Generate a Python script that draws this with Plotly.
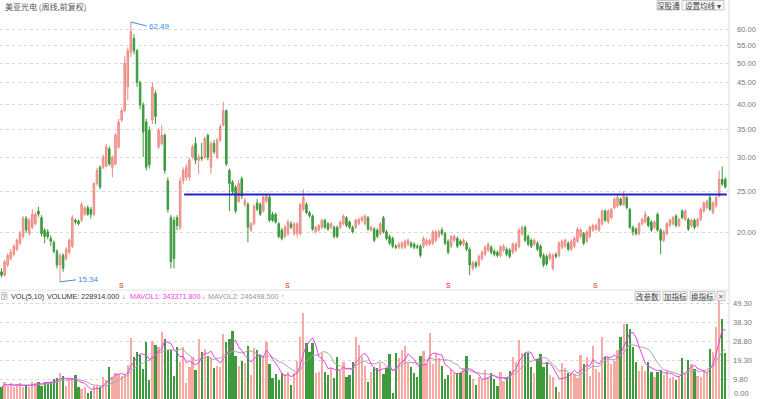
import math
import plotly.graph_objects as go
import pandas as pd

# ---------------- data (weekly, forward-adjusted) ----------------
open_ = [16.2, 15.9, 16.8, 17.4, 17.8, 18.3, 18.9, 19.6, 21.6, 19.9,
         20.6, 21.0, 22.5, 21.7, 20.3, 20.1, 19.4, 19.0, 18.1, 16.8,
         17.7, 17.4, 18.0, 18.6, 21.4, 21.3, 21.4, 22.1, 22.9, 22.7,
         22.1, 26.1, 28.5, 28.5, 28.7, 31.5, 28.5, 29.0, 31.8, 36.8,
         38.7, 44.0, 53.0, 57.2, 53.5, 45.1, 39.9, 36.4, 34.8, 36.8,
         42.5, 31.8, 32.4, 33.9, 26.5, 21.7, 21.4, 21.7, 20.6, 26.5,
         27.0, 27.0, 30.1, 32.4, 29.6, 30.1, 30.1, 33.9, 28.5, 32.4,
         30.1, 33.0, 35.8, 38.7, 28.0, 26.3, 25.6, 23.7, 26.8, 23.3,
         23.3, 20.3, 21.0, 23.5, 23.3, 22.5, 23.7, 24.2, 22.1, 22.1,
         21.0, 20.3, 19.6, 19.9, 21.0, 19.9, 19.9, 19.9, 22.7, 23.3,
         22.3, 21.9, 20.1, 20.3, 20.6, 21.4, 21.0, 20.6, 20.6, 20.6,
         20.6, 21.0, 21.7, 21.2, 20.6, 20.6, 21.0, 21.4, 21.0, 21.7,
         20.3, 20.4, 20.3, 19.9, 21.7, 20.1, 19.6, 19.4, 18.6, 18.5,
         18.5, 18.5, 18.8, 18.9, 18.8, 18.6, 18.6, 18.6, 18.8, 18.8,
         18.9, 19.2, 19.6, 20.3, 19.9, 19.1, 18.6, 19.2, 19.4, 19.1,
         18.8, 18.9, 18.3, 16.5, 17.0, 16.8, 17.4, 17.8, 18.2, 18.5,
         18.1, 18.0, 17.7, 18.2, 18.3, 18.2, 18.0, 18.2, 18.6, 19.9,
         20.6, 19.6, 19.2, 18.8, 18.9, 18.6, 17.7, 17.6, 17.4, 16.5,
         17.8, 17.7, 18.5, 18.6, 18.9, 18.3, 18.6, 19.1, 19.6, 19.9,
         19.1, 19.6, 20.3, 20.4, 20.3, 21.0, 22.5, 21.2, 21.7, 22.9,
         23.1, 24.0, 23.3, 24.2, 22.7, 20.6, 20.4, 19.9, 21.0, 21.2,
         21.7, 21.2, 20.6, 22.1, 20.3, 19.2, 19.9, 20.8, 21.0, 21.9,
         20.8, 22.5, 21.5, 21.5, 20.8, 21.4, 20.8, 21.5, 22.5, 22.9,
         24.2, 22.3, 23.1, 24.4, 26.7, 26.7]

high = [16.5, 17.3, 17.9, 18.3, 18.8, 19.4, 20.2, 21.9, 21.9, 21.7,
        22.7, 22.4, 23.0, 22.0, 20.5, 20.4, 19.7, 19.2, 18.3, 17.9,
        17.9, 18.5, 19.4, 22.0, 21.6, 21.5, 23.6, 23.1, 23.2, 23.0,
        26.3, 28.4, 28.8, 30.5, 32.3, 31.9, 30.4, 34.3, 37.0, 39.3,
        52.0, 54.5, 62.49, 58.5, 54.0, 45.5, 40.5, 37.0, 35.5, 45.1,
        43.2, 35.3, 35.8, 34.2, 27.0, 22.0, 21.8, 22.0, 27.0, 28.5,
        29.0, 30.0, 32.2, 33.5, 30.6, 32.5, 33.6, 34.2, 32.8, 33.0,
        33.4, 36.0, 40.6, 39.0, 28.3, 26.6, 25.9, 26.6, 27.1, 24.2,
        23.6, 21.2, 23.3, 24.0, 23.6, 24.5, 24.7, 24.6, 22.4, 22.3,
        21.2, 20.5, 20.9, 21.5, 21.3, 21.2, 21.2, 23.5, 25.3, 23.6,
        22.5, 22.1, 20.8, 21.0, 21.6, 21.6, 21.2, 21.2, 20.8, 20.8,
        21.4, 22.1, 21.9, 21.4, 20.8, 21.6, 21.7, 21.9, 22.1, 21.9,
        20.8, 20.6, 20.5, 21.2, 21.9, 20.3, 19.8, 19.6, 18.8, 19.0,
        19.1, 19.3, 19.4, 19.1, 19.0, 18.8, 18.8, 19.6, 19.4, 19.4,
        20.3, 20.3, 20.3, 20.6, 20.1, 19.3, 19.8, 19.8, 19.6, 19.3,
        19.4, 19.1, 18.5, 17.2, 17.2, 17.8, 18.2, 18.7, 19.0, 18.7,
        18.3, 18.2, 18.7, 18.8, 18.5, 18.4, 19.0, 19.0, 20.5, 20.8,
        20.8, 19.8, 19.4, 19.4, 19.1, 18.8, 17.9, 17.8, 18.0, 17.9,
        18.0, 19.1, 19.3, 19.4, 19.1, 19.3, 19.6, 20.6, 20.5, 20.1,
        20.3, 20.8, 21.0, 21.0, 21.7, 22.7, 22.7, 22.7, 22.9, 24.2,
        24.7, 24.2, 25.1, 24.4, 22.9, 20.8, 20.6, 21.2, 21.7, 22.5,
        21.9, 21.4, 21.4, 22.3, 20.5, 20.3, 21.2, 21.6, 21.9, 22.1,
        21.7, 22.7, 22.7, 21.7, 21.6, 21.6, 21.7, 22.9, 23.7, 23.9,
        24.7, 23.7, 24.4, 28.0, 28.6, 27.0]

low = [15.7, 15.8, 16.6, 17.2, 17.6, 18.1, 18.7, 19.4, 20.0, 19.7,
       20.4, 20.8, 21.8, 19.6, 18.9, 19.3, 18.6, 17.9, 16.5, 15.34,
       16.2, 17.2, 17.8, 18.4, 20.9, 20.8, 21.2, 21.9, 21.9, 21.6,
       21.9, 25.8, 25.3, 28.2, 28.5, 28.7, 27.0, 28.8, 31.5, 36.4,
       38.3, 41.0, 51.6, 52.5, 44.0, 39.0, 30.1, 28.0, 28.3, 36.0,
       36.0, 31.5, 32.0, 27.5, 22.3, 16.5, 16.5, 20.3, 20.3, 26.0,
       26.5, 26.5, 29.8, 29.0, 27.5, 29.5, 29.8, 29.6, 27.5, 30.6,
       29.8, 32.7, 35.5, 28.7, 22.5, 24.6, 22.2, 23.5, 24.0, 23.0,
       19.0, 20.1, 20.8, 22.5, 21.9, 22.3, 23.5, 21.2, 21.2, 21.0,
       19.4, 19.2, 19.4, 19.7, 20.4, 19.7, 19.5, 19.7, 22.5, 22.1,
       21.7, 20.2, 19.9, 20.1, 20.4, 20.4, 20.2, 20.4, 19.4, 19.4,
       20.4, 20.8, 20.6, 20.4, 19.9, 20.4, 20.8, 21.2, 20.8, 20.2,
       20.1, 19.0, 19.4, 19.7, 19.9, 19.2, 18.7, 18.4, 18.3, 18.3,
       18.3, 18.3, 18.6, 18.4, 18.3, 18.3, 17.5, 18.4, 18.6, 18.6,
       18.7, 19.0, 19.4, 19.7, 18.7, 17.8, 18.4, 19.0, 18.4, 18.6,
       18.6, 18.1, 15.9, 16.3, 16.5, 16.6, 17.2, 17.6, 18.0, 17.8,
       17.6, 17.5, 17.5, 18.0, 17.6, 17.4, 17.8, 18.0, 18.4, 19.7,
       19.0, 18.6, 18.4, 18.6, 18.1, 17.4, 16.6, 16.7, 17.2, 16.3,
       17.4, 17.5, 18.3, 18.4, 18.1, 18.1, 18.4, 18.9, 19.4, 18.7,
       18.9, 19.4, 20.1, 20.2, 20.1, 20.8, 21.2, 21.0, 21.5, 22.7,
       22.9, 23.1, 23.1, 22.7, 20.4, 19.7, 19.7, 19.7, 20.8, 21.0,
       20.6, 20.1, 20.4, 20.1, 17.8, 19.0, 19.7, 20.6, 20.8, 20.6,
       20.6, 21.5, 21.3, 20.2, 20.6, 20.4, 20.6, 21.3, 22.3, 22.7,
       22.5, 22.1, 22.9, 24.2, 25.8, 25.4]

close = [15.9, 17.1, 17.7, 18.0, 18.6, 19.2, 19.9, 21.6, 20.3, 21.4,
         22.1, 22.1, 22.1, 19.9, 19.6, 19.6, 19.1, 18.1, 16.8, 17.7,
         16.5, 18.3, 19.2, 21.7, 21.2, 21.0, 23.3, 22.9, 22.1, 22.1,
         26.1, 28.0, 25.6, 30.1, 31.8, 29.0, 30.1, 33.9, 36.4, 38.7,
         50.0, 53.5, 59.3, 53.5, 45.1, 39.9, 34.5, 28.5, 28.9, 44.0,
         37.5, 34.8, 33.9, 28.0, 22.7, 17.1, 17.4, 20.8, 26.5, 28.0,
         28.5, 29.6, 31.8, 29.6, 30.1, 29.9, 33.3, 30.1, 32.4, 31.0,
         33.0, 35.5, 38.7, 29.0, 26.1, 25.0, 22.5, 26.1, 24.4, 23.8,
         20.6, 21.0, 23.1, 22.7, 22.1, 24.2, 24.4, 21.4, 21.4, 21.2,
         19.6, 19.4, 20.6, 21.2, 20.6, 21.0, 21.0, 23.3, 24.2, 22.3,
         21.9, 20.4, 20.6, 20.8, 21.4, 20.6, 20.4, 21.0, 19.6, 19.6,
         21.2, 21.9, 20.8, 20.6, 20.1, 21.4, 21.5, 21.7, 21.9, 20.4,
         20.6, 19.2, 19.6, 21.0, 20.1, 19.4, 18.9, 18.6, 18.5, 18.8,
         18.9, 19.1, 19.2, 18.6, 18.5, 18.5, 17.7, 19.4, 19.2, 19.2,
         20.1, 20.1, 20.1, 19.9, 18.9, 18.0, 19.6, 19.6, 18.6, 18.8,
         19.2, 18.3, 16.8, 17.0, 16.7, 17.6, 18.0, 18.5, 18.8, 18.0,
         17.8, 17.7, 18.5, 18.6, 17.8, 17.6, 18.8, 18.8, 20.3, 20.6,
         19.2, 18.8, 18.6, 19.2, 18.3, 17.6, 16.8, 16.9, 17.8, 17.7,
         17.6, 18.9, 19.1, 19.2, 18.3, 19.1, 19.4, 20.4, 20.3, 18.9,
         20.1, 20.6, 20.8, 20.8, 21.5, 22.5, 21.4, 22.5, 22.7, 24.0,
         24.2, 23.3, 24.4, 22.9, 20.6, 20.1, 19.9, 21.0, 21.5, 22.1,
         20.8, 20.3, 21.2, 20.3, 19.2, 20.1, 21.0, 21.4, 21.7, 20.8,
         21.5, 21.7, 22.5, 20.4, 21.4, 20.6, 21.5, 22.7, 23.5, 23.7,
         22.7, 23.5, 24.2, 26.7, 26.0, 25.6]

# volume, in units of 10,000 shares
volume = [5.8, 8.7, 6.5, 7.8, 5.8, 7.0, 7.8, 5.8, 7.0, 5.8,
          8.7, 8.2, 8.7, 6.5, 8.7, 8.7, 8.7, 9.8, 10.3, 13.2,
          11.5, 6.5, 9.8, 10.3, 12.0, 5.8, 4.8, 6.2, 3.2, 4.2,
          6.5, 6.5, 5.8, 10.8, 9.5, 15.8, 10.8, 13.2, 12.5, 11.5,
          12.5, 16.8, 30.3, 20.8, 23.7, 22.0, 14.8, 28.7, 9.5, 28.8,
          27.0, 25.8, 33.7, 29.8, 24.5, 24.5, 11.5, 26.2, 18.7, 26.2,
          7.8, 16.2, 21.2, 14.5, 29.8, 23.7, 24.8, 21.5, 20.3, 15.3,
          16.5, 16.2, 32.5, 28.7, 29.8, 34.2, 21.5, 16.5, 19.2, 18.2,
          26.5, 12.0, 25.3, 24.5, 22.0, 21.2, 28.7, 17.5, 10.3, 12.5,
          9.5, 13.2, 12.5, 13.7, 7.0, 13.2, 19.2, 30.8, 42.8, 27.8,
          23.7, 27.8, 13.2, 13.7, 23.2, 13.7, 12.0, 15.3, 10.3, 20.8,
          14.5, 18.7, 10.8, 12.0, 18.7, 30.8, 27.0, 21.2, 16.5, 8.7,
          13.7, 16.2,
          15.3, 18.2, 12.5, 15.3, 22.5, 2.8, 23.2, 20.3, 24.5, 26.5,
          18.2, 16.2, 13.2, 10.8, 21.5, 24.2, 17.5, 33.2, 17.5, 22.5,
          20.3, 16.5, 9.8, 12.0, 14.8, 12.8, 13.2, 13.2, 15.3, 21.5,
          12.0, 9.8, 7.0, 10.8, 9.5, 14.5, 10.8, 13.2, 9.8, 6.5,
          13.7, 9.2, 10.8, 14.2, 20.8, 18.7, 29.5, 23.2, 23.2, 23.2,
          16.2, 13.2, 19.8, 22.5, 16.2, 18.7, 12.0, 10.8, 6.2,
          3.7, 17.8, 15.3, 13.2, 13.2, 12.5, 10.3, 22.0, 17.5, 21.2,
          11.5, 26.5, 14.8, 13.7, 31.2, 20.8, 21.5, 17.5, 19.0, 24.5,
          30.8, 37.5, 37.5, 34.8, 25.8, 18.7, 14.2, 16.5, 14.2, 18.7,
          13.7, 10.8, 13.7, 14.5, 12.0, 14.5, 10.3, 10.8, 9.5, 11.0,
          20.3, 12.5, 19.5, 17.5, 14.8, 11.5, 10.8, 14.5, 13.2, 24.8,
          23.7, 36.2, 49.3, 39.8, 22.9]

price_ticks = [20, 25, 30, 35, 40, 45, 50, 55, 60]
vol_tick_vals = [9.8, 19.3, 28.8, 38.3, 48.0]
vol_tick_text = ["9.80", "19.30", "28.80", "38.30", "49.30"]

event_weeks = [39, 93, 145, 193]      # red "S" markers
resistance_level = 24.6
resistance_start = 59

high_label = "62.49"
low_label = "15.34"
high_week = 42
low_week = 19

header_title = "美亚光电 (周线,前复权)"

# ---------------- derived ----------------
n = len(close)
idx = list(range(n))
vol_s = pd.Series(volume)
ma5 = vol_s.rolling(5, min_periods=1).mean()
ma10 = vol_s.rolling(10, min_periods=1).mean()

RED_LINE = "#ec8a83"
RED_FILL = "#f5aaa4"
GREEN = "#3d9a3d"
vol_colors = [RED_FILL if c >= o else GREEN for o, c in zip(open_, close)]

W, H = 760, 399
PW = 729.0


def px(x):
    return x / PW


def py(y):
    return (H - y) / H


fig = go.Figure()

fig.add_trace(go.Candlestick(
    x=idx, open=open_, high=high, low=low, close=close,
    increasing=dict(line=dict(color=RED_LINE, width=1), fillcolor=RED_FILL),
    decreasing=dict(line=dict(color=GREEN, width=1), fillcolor=GREEN),
    whiskerwidth=0, xaxis="x", yaxis="y", showlegend=False, hoverinfo="skip"))

fig.add_trace(go.Scatter(
    x=[resistance_start + 0.3, n - 0.5], y=[resistance_level, resistance_level],
    mode="lines", line=dict(color="#2323c8", width=2),
    xaxis="x", yaxis="y", showlegend=False, hoverinfo="skip"))

fig.add_trace(go.Bar(
    x=idx, y=volume, marker=dict(color=vol_colors, line=dict(width=0)),
    width=0.72, xaxis="x2", yaxis="y2", showlegend=False, hoverinfo="skip"))

fig.add_trace(go.Scatter(
    x=idx, y=ma10, mode="lines", line=dict(color="#a8a8a8", width=1),
    xaxis="x2", yaxis="y2", showlegend=False, hoverinfo="skip"))
fig.add_trace(go.Scatter(
    x=idx, y=ma5, mode="lines", line=dict(color="#f03cf0", width=1),
    xaxis="x2", yaxis="y2", showlegend=False, hoverinfo="skip"))

xr = [-0.49, -0.49 + PW / 3.08]
price_dom = [py(290), py(20)]
vol_dom = [0, py(300)]

fig.update_layout(
    width=W, height=H,
    margin=dict(l=0, r=W - PW, t=0, b=0, autoexpand=False),
    paper_bgcolor="white", plot_bgcolor="white",
    font=dict(family="Liberation Sans, Arial, sans-serif", size=8, color="#666"),
    xaxis=dict(domain=[0, 1], range=xr, anchor="y", showgrid=False,
               showticklabels=False, zeroline=False, rangeslider=dict(visible=False),
               ticks=""),
    yaxis=dict(domain=price_dom, type="log",
               range=[1.1667, 1.8005], side="right",
               tickvals=price_ticks, ticktext=[f"{v:.2f}" for v in price_ticks],
               showgrid=True, gridcolor="#d9d9d9", griddash="dot", gridwidth=1,
               zeroline=False, ticks="", ticklabelstandoff=7, automargin=False,
               tickfont=dict(size=7.6, color="#777")),
    xaxis2=dict(domain=[0, 1], range=xr, anchor="y2", showgrid=False,
                showticklabels=False, zeroline=False, ticks=""),
    yaxis2=dict(domain=vol_dom, range=[0, 49.5], side="right",
                tickvals=vol_tick_vals, ticktext=vol_tick_text,
                showgrid=True, gridcolor="#d9d9d9", griddash="dot", gridwidth=1,
                zeroline=False, ticks="", ticklabelstandoff=3, automargin=False,
                tickfont=dict(size=7.6, color="#777")),
    bargap=0,
)

shapes = []
shapes.append(dict(type="line", xref="paper", yref="paper", x0=1, x1=1, y0=0, y1=1,
                   line=dict(color="#dcdcdc", width=1)))
shapes.append(dict(type="line", xref="paper", yref="paper", x0=0, x1=1,
                   y0=py(290), y1=py(290), line=dict(color="#e2e2e2", width=1)))


def box(x0, x1, y0, y1):
    shapes.append(dict(type="rect", xref="paper", yref="paper",
                       x0=px(x0), x1=px(x1), y0=py(y1), y1=py(y0),
                       line=dict(color="#c8c8c8", width=1), fillcolor="#f7f7f7"))


box(657, 679, 0.5, 10)
box(682, 724, 0.5, 10)
box(635, 660, 291.5, 300.5)
box(663, 687, 291.5, 300.5)
box(690, 715, 291.5, 300.5)
box(717, 725, 291.5, 300.5)
box(1.5, 7, 292.5, 299.5)
fig.update_layout(shapes=shapes)

ann = []
CJK = "Noto Sans CJK SC, sans-serif"


def txt(x, y, s, color="#555", size=8, anchor="left", family=None):
    d = dict(xref="paper", yref="paper", x=px(x), y=py(y), text=s, showarrow=False,
             xanchor=anchor, yanchor="middle", font=dict(size=size, color=color))
    if family:
        d["font"]["family"] = family
    ann.append(d)


txt(3, 6, header_title, "#555", 8, family=CJK)
txt(668, 5.5, "深股通", "#444", 7.5, "center", CJK)
txt(703, 5.5, "设置均线 ▾", "#444", 7.5, "center", CJK)
txt(647.5, 296, "改参数", "#444", 7.5, "center", CJK)
txt(675, 296, "加指标", "#444", 7.5, "center", CJK)
txt(702.5, 296, "换指标", "#444", 7.5, "center", CJK)
txt(721, 296, "✕", "#666", 7, "center")
txt(4.3, 296, "?", "#666", 7, "center")

txt(9, 296, "VOL(5,10)", "#333", 7.2)
txt(45, 296, "VOLUME: 228914.000", "#333", 7.2)
txt(119.5, 296, "↓", "#3b6fd0", 7.2)
txt(128, 296, "MAVOL1: 343371.800", "#ee3cee", 7.2)
txt(200, 296, "↓", "#ee3cee", 7.2)
txt(206, 296, "MAVOL2: 246498.500", "#999", 7.2)
txt(279, 296, "↑", "#999", 7.2)

ann.append(dict(xref="paper", yref="paper", x=1, y=py(393), xanchor="left",
                yanchor="middle", xshift=3, text="0.00", showarrow=False,
                font=dict(size=7.6, color="#777")))

ann.append(dict(xref="x", yref="y", x=high_week, y=math.log10(high[high_week]),
                text=high_label, showarrow=True, arrowhead=0, arrowwidth=1,
                arrowcolor="#3a8ee6", ax=16, ay=4, xanchor="left", yanchor="middle",
                font=dict(size=8, color="#3a8ee6")))
ann.append(dict(xref="x", yref="y", x=low_week, y=math.log10(low[low_week]),
                text=low_label, showarrow=True, arrowhead=0, arrowwidth=1,
                arrowcolor="#3a8ee6", ax=16, ay=-2, xanchor="left", yanchor="middle",
                font=dict(size=8, color="#3a8ee6")))

for e in event_weeks:
    ann.append(dict(xref="x", yref="paper", x=e, y=py(285), text="S", showarrow=False,
                    xanchor="center", yanchor="middle",
                    font=dict(size=7, color="#e02020")))

fig.update_layout(annotations=ann)
fig.write_html("out.html",
               config={"displayModeBar": False},
               post_script="document.body.style.margin='0';document.body.style.overflow='hidden';")
